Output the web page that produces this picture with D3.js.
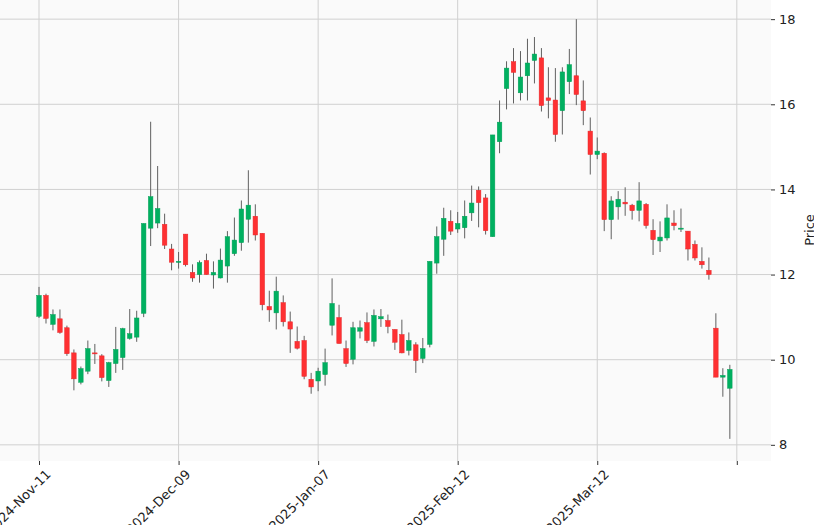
<!DOCTYPE html>
<html><head><meta charset="utf-8">
<script src="https://cdn.jsdelivr.net/npm/d3@7"></script>
<style>body{margin:0;background:#fff;font-family:"DejaVu Sans",sans-serif}</style>
</head><body>
<script>
// OHLC, one entry per trading day
var opens  = [11.02,11.51,10.83,10.96,10.75,10.16,9.47,9.73,10.16,10.09,9.51,9.91,10.05,10.5,10.53,11.09,13.09,13.21,13.18,12.6,
  12.29,12.95,12.05,12.0,12.33,11.99,11.92,12.2,12.49,12.75,13.3,13.37,12.97,11.25,11.1,11.34,10.89,10.43,10.45,9.54,
  9.5,9.65,10.81,10.99,10.26,10.01,10.67,10.87,10.43,10.96,10.92,10.71,10.59,10.22,10.35,10.03,10.36,12.27,12.83,13.25,
  13.07,13.1,13.45,13.98,13.8,12.89,15.12,16.37,17.0,16.27,16.67,17.03,17.09,16.15,16.1,15.85,16.53,16.67,16.08,15.37,
  14.82,14.85,13.29,13.59,13.7,13.63,13.51,13.65,13.04,12.79,12.86,13.21,13.08,13.02,12.71,12.31,12.1,10.74,9.59,9.33];
var highs  = [11.71,11.55,11.18,11.18,10.8,10.24,9.84,10.45,10.37,10.13,9.95,10.77,10.75,11.19,11.15,13.2,15.59,14.55,13.43,12.72,
  12.53,12.95,12.24,12.33,12.49,12.31,12.61,13.02,13.34,13.74,14.45,13.65,12.97,11.62,11.95,11.51,11.13,10.78,10.56,9.69,
  9.81,10.26,11.91,11.29,10.45,10.89,10.92,11.11,11.18,11.19,11.06,10.71,10.94,10.64,10.41,10.51,12.31,13.13,13.57,13.51,
  13.47,13.74,14.09,14.07,13.89,15.28,16.09,17.01,17.32,17.25,17.54,17.58,17.32,16.87,16.85,16.87,17.3,18.0,16.56,15.69,
  15.22,14.87,13.84,13.96,14.05,13.66,14.17,13.68,13.3,13.25,13.65,13.51,13.55,13.02,12.8,12.64,12.4,11.09,9.8,9.88];
var lows   = [10.98,10.85,10.69,10.61,10.09,9.28,9.42,9.66,9.9,9.49,9.36,9.69,9.76,10.47,10.42,11.0,12.67,13.09,12.6,12.1,
  12.14,12.19,11.83,11.81,12.0,11.67,11.91,11.81,12.44,12.56,12.75,12.8,11.16,10.89,10.71,10.78,10.16,10.24,9.54,9.2,
  9.26,9.39,10.57,10.38,9.83,9.89,10.5,10.39,10.31,10.77,10.62,10.23,10.15,10.1,9.69,9.92,10.29,12.02,12.44,12.93,
  12.98,12.85,13.26,13.11,12.94,12.89,14.85,15.88,16.02,16.09,16.09,16.49,15.83,15.67,15.12,15.29,16.24,15.98,15.51,14.35,
  14.71,13.02,12.83,13.29,13.38,13.29,13.25,13.08,12.46,12.53,12.8,13.04,13.0,12.33,12.33,12.14,11.88,9.59,9.13,8.14];
var closes = [11.51,10.97,11.06,10.64,10.14,9.55,9.79,10.26,10.15,9.58,9.93,10.24,10.73,10.61,10.98,13.2,13.83,13.55,12.69,12.29,
  12.31,12.23,11.92,12.28,12.0,12.05,12.34,12.89,12.81,13.54,13.63,12.93,11.29,11.17,11.61,10.89,10.72,10.27,9.61,9.36,
  9.73,9.93,11.32,10.38,9.91,10.75,10.75,10.45,11.04,11.01,10.78,10.41,10.16,10.45,9.98,10.26,12.31,12.89,13.32,13.02,
  13.2,13.37,13.68,13.69,13.03,15.28,15.58,16.85,16.75,16.64,16.97,17.18,15.97,16.09,15.29,16.76,16.93,16.23,15.85,14.82,
  14.9,13.29,13.73,13.77,13.66,13.5,13.73,13.15,12.82,12.88,13.33,13.15,13.09,12.6,12.39,12.23,12.0,9.59,9.63,9.77];
var tickIdx = [0, 20, 40, 60, 80, 100];
var tickLabels = ["2024-Nov-11", "2024-Dec-09", "2025-Jan-07", "2025-Feb-12", "2025-Mar-12", ""];
var yTicks = [8, 10, 12, 14, 16, 18];

var W = 814, H = 525, pw = 771, ph = 461;
var x = d3.scaleLinear().domain([-5.59, 104.9]).range([0, pw]);
var y = d3.scaleLinear().domain([7.62, 18.45]).range([ph, 0]);

var svg = d3.select("body").append("svg").attr("width", W).attr("height", H);
svg.append("rect").attr("width", pw).attr("height", ph).attr("fill", "#fafafa");

var g = svg.append("g");
g.selectAll(".vg").data(tickIdx).enter().append("line")
  .attr("x1", d => x(d)).attr("x2", d => x(d)).attr("y1", 0).attr("y2", ph)
  .attr("stroke", "#d0d0d0").attr("stroke-width", 1);
g.selectAll(".hg").data(yTicks).enter().append("line")
  .attr("x1", 0).attr("x2", pw).attr("y1", d => y(d)).attr("y2", d => y(d))
  .attr("stroke", "#d0d0d0").attr("stroke-width", 1);

var idx = d3.range(opens.length);
var up = i => closes[i] >= opens[i];
g.selectAll(".wick").data(idx).enter().append("line")
  .attr("x1", i => x(i)).attr("x2", i => x(i))
  .attr("y1", i => y(highs[i])).attr("y2", i => y(lows[i]))
  .attr("stroke", "#606060").attr("stroke-width", 1);
var bw = (x(1) - x(0)) * 0.65;
g.selectAll(".body").data(idx).enter().append("rect")
  .attr("x", i => x(i) - bw / 2).attr("width", bw)
  .attr("y", i => y(Math.max(opens[i], closes[i])))
  .attr("height", i => Math.max(1, Math.abs(y(opens[i]) - y(closes[i]))))
  .attr("fill", i => up(i) ? "#00b060" : "#fe3032")
  .attr("stroke", i => up(i) ? "#00a057" : "#e8282b").attr("stroke-width", 0.5);

// right axis
var ya = svg.append("g").attr("transform", "translate(" + pw + ",0)")
  .call(d3.axisRight(y).tickValues(yTicks).tickSize(4).tickPadding(4));
ya.select(".domain").remove();
ya.selectAll("line").attr("stroke", "#333");
ya.selectAll("text").attr("font-size", 13).attr("fill", "#222").attr("font-family", "DejaVu Sans");
svg.append("text").attr("transform", "translate(814,230) rotate(-90)")
  .attr("text-anchor", "middle").attr("font-size", 13).attr("fill", "#222").text("Price");

// bottom axis
var xa = svg.append("g").attr("transform", "translate(0," + ph + ")")
  .call(d3.axisBottom(x).tickValues(tickIdx).tickSize(4).tickFormat((d, i) => tickLabels[i]));
xa.select(".domain").remove();
xa.selectAll("line").attr("stroke", "#333");
xa.selectAll("text").attr("font-size", 13).attr("fill", "#222").attr("font-family", "DejaVu Sans")
  .attr("text-anchor", "end").attr("transform", "translate(4,6) rotate(-45)").attr("dy", "0.35em");
</script>
</body></html>
